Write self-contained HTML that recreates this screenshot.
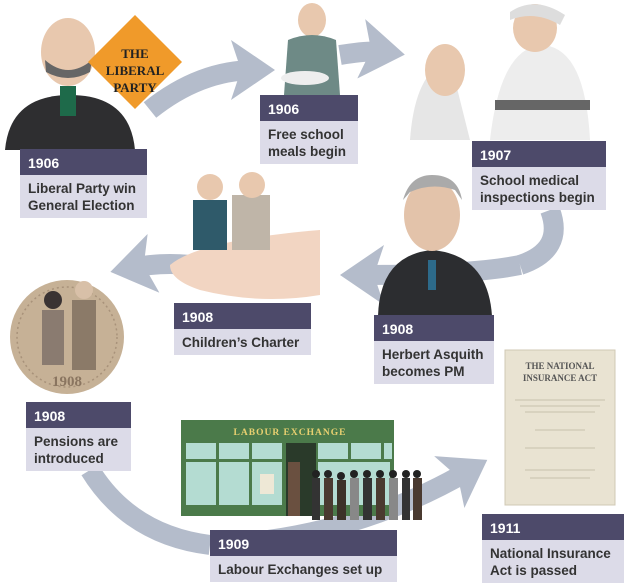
<!DOCTYPE html>
<html><head><meta charset="utf-8"><style>
body{margin:0;width:624px;height:586px;background:#fff;position:relative;overflow:hidden;font-family:"Liberation Sans",Arial,sans-serif}
.l{position:absolute;font-weight:bold}
.l .h{background:#4d4a6a;color:#fff;font-size:14px;height:26px;line-height:28px;padding-left:8px}
.l .b{background:#dcdbe8;color:#333;font-size:13.5px;line-height:17px;padding:5px 8px 4px}
svg{position:absolute;left:0;top:0}
</style></head><body>
<svg width="624" height="586" viewBox="0 0 624 586">
<defs><marker id="a" markerWidth="3" markerHeight="3" refX="1.2" refY="1.5" orient="auto"><path d="M0,0 L2.2,1.5 L0,3 L0.5,1.5Z" fill="#b4bccb"/></marker></defs>
<g fill="none" stroke="#b4bccb" stroke-width="20">
<path d="M150,110 Q200,70 255,70" marker-end="url(#a)"/>
<path d="M340,55 Q370,50 385,52" marker-end="url(#a)"/>
<path d="M550,210 Q565,250 520,265" />
<path d="M520,265 Q470,275 360,275" marker-end="url(#a)"/>
<path d="M190,265 Q160,262 130,268" marker-end="url(#a)"/>
<path d="M90,470 Q130,535 210,545"/>
<path d="M210,545 Q350,540 470,470" marker-end="url(#a)"/>
</g>
<path d="M5,150 Q10,95 70,95 Q130,95 135,150Z" fill="#2e2e30"/>
<ellipse cx="68" cy="52" rx="27" ry="34" fill="#e8c8ae"/>
<path d="M45,60 Q68,80 92,60 L90,72 Q68,84 46,72Z" fill="#666"/>
<rect x="60" y="86" width="16" height="30" fill="#1e6a4a"/>
<path d="M135,15 L182,62 L135,109 L88,62Z" fill="#f09a2a"/>
<text x="135" y="58" font-family="Liberation Serif" font-weight="bold" font-size="13" text-anchor="middle" fill="#222">THE</text>
<text x="135" y="75" font-family="Liberation Serif" font-weight="bold" font-size="13" text-anchor="middle" fill="#222">LIBERAL</text>
<text x="135" y="92" font-family="Liberation Serif" font-weight="bold" font-size="13" text-anchor="middle" fill="#222">PARTY</text>
<ellipse cx="312" cy="20" rx="14" ry="17" fill="#e8c8ae"/>
<path d="M288,40 Q312,30 336,40 L340,95 L284,95Z" fill="#6e8a86"/>
<ellipse cx="305" cy="78" rx="24" ry="7" fill="#eee"/>
<path d="M410,140 Q415,70 450,60 L470,140Z" fill="#e6e6e6"/>
<ellipse cx="445" cy="70" rx="20" ry="26" fill="#e8c8ae"/>
<path d="M490,140 Q500,50 540,45 Q585,45 590,140Z" fill="#ededed"/>
<ellipse cx="535" cy="28" rx="22" ry="24" fill="#e8c8ae"/>
<path d="M510,12 Q535,-5 565,15 L560,25 Q535,10 510,20Z" fill="#ddd"/>
<rect x="495" y="100" width="95" height="10" fill="#666"/>
<path d="M170,265 Q200,240 320,230 L320,295 Q260,305 200,290 Q170,280 170,265Z" fill="#f2d5c2"/>
<rect x="193" y="200" width="34" height="50" fill="#2f5a6a"/>
<circle cx="210" cy="187" r="13" fill="#e8c8ae"/>
<rect x="232" y="195" width="38" height="55" fill="#bfb5a8"/>
<circle cx="252" cy="185" r="13" fill="#e8c8ae"/>
<path d="M378,316 Q380,255 432,250 Q488,255 492,316Z" fill="#2c2d30"/>
<ellipse cx="432" cy="215" rx="28" ry="36" fill="#e3c3aa"/>
<path d="M403,200 Q410,175 432,175 Q458,175 462,200 L455,190 Q432,182 410,192Z" fill="#aaa"/>
<rect x="428" y="260" width="8" height="30" fill="#2d6a8a"/>
<circle cx="67" cy="337" r="57" fill="#c6b196"/>
<circle cx="67" cy="337" r="50" fill="none" stroke="#a8927a" stroke-width="1.5" stroke-dasharray="2 3"/>
<rect x="42" y="310" width="22" height="55" fill="#8a7b70"/>
<rect x="72" y="300" width="24" height="70" fill="#8b7a68"/>
<circle cx="53" cy="300" r="9" fill="#3a3333"/>
<circle cx="84" cy="290" r="9" fill="#d8c0a8"/>
<text x="67" y="386" font-family="Liberation Serif" font-weight="bold" font-size="15" text-anchor="middle" fill="#8a7560">1908</text>
<rect x="181" y="420" width="213" height="96" fill="#4b7a4a"/>
<text x="290" y="435" font-family="Liberation Serif" font-weight="bold" font-size="9.5" text-anchor="middle" fill="#e8d070" letter-spacing="1">LABOUR EXCHANGE</text>
<g fill="#b4dcd2"><rect x="186" y="443" width="30" height="16"/><rect x="219" y="443" width="30" height="16"/><rect x="252" y="443" width="30" height="16"/><rect x="186" y="462" width="30" height="43"/><rect x="219" y="462" width="30" height="43"/><rect x="252" y="462" width="30" height="43"/><rect x="318" y="443" width="30" height="16"/><rect x="351" y="443" width="30" height="16"/><rect x="384" y="443" width="8" height="16"/><rect x="318" y="462" width="72" height="43"/></g>
<rect x="260" y="474" width="14" height="20" fill="#eee8d6"/>
<rect x="286" y="443" width="30" height="73" fill="#2a3a2a"/>
<rect x="288" y="462" width="12" height="54" fill="#6a5040"/>
<g>
<rect x="312" y="478" width="8" height="42" fill="#333"/><rect x="324" y="478" width="9" height="42" fill="#4a3a30"/><rect x="337" y="480" width="9" height="40" fill="#3c3228"/><rect x="350" y="478" width="9" height="42" fill="#888"/><rect x="363" y="478" width="9" height="42" fill="#333"/><rect x="376" y="478" width="9" height="42" fill="#4a3a30"/><rect x="389" y="478" width="9" height="42" fill="#888"/><rect x="402" y="478" width="8" height="42" fill="#333"/><rect x="413" y="478" width="9" height="42" fill="#4a3a30"/>
</g>
<g fill="#222"><circle cx="316" cy="474" r="4"/><circle cx="328" cy="474" r="4"/><circle cx="341" cy="476" r="4"/><circle cx="354" cy="474" r="4"/><circle cx="367" cy="474" r="4"/><circle cx="380" cy="474" r="4"/><circle cx="393" cy="474" r="4"/><circle cx="406" cy="474" r="4"/><circle cx="417" cy="474" r="4"/></g>
<rect x="505" y="350" width="110" height="155" fill="#e9e3d2" stroke="#d0c8b4"/>
<text x="560" y="369" font-family="Liberation Serif" font-weight="bold" font-size="9" text-anchor="middle" fill="#555">THE NATIONAL</text>
<text x="560" y="381" font-family="Liberation Serif" font-weight="bold" font-size="9" text-anchor="middle" fill="#555">INSURANCE ACT</text>
<g stroke="#c8c0ac" stroke-width="1"><line x1="515" y1="400" x2="605" y2="400"/><line x1="520" y1="406" x2="600" y2="406"/><line x1="525" y1="412" x2="595" y2="412"/><line x1="535" y1="430" x2="585" y2="430"/><line x1="525" y1="448" x2="595" y2="448"/><line x1="525" y1="470" x2="595" y2="470"/><line x1="530" y1="478" x2="590" y2="478"/></g>
</svg>
<div class="l" style="left:20px;top:149px;width:127px"><div class="h">1906</div><div class="b">Liberal Party win General Election</div></div>
<div class="l" style="left:260px;top:95px;width:98px"><div class="h">1906</div><div class="b">Free school meals begin</div></div>
<div class="l" style="left:472px;top:141px;width:134px"><div class="h">1907</div><div class="b">School medical inspections begin</div></div>
<div class="l" style="left:174px;top:303px;width:137px"><div class="h">1908</div><div class="b">Children’s Charter</div></div>
<div class="l" style="left:374px;top:315px;width:120px"><div class="h">1908</div><div class="b">Herbert Asquith becomes PM</div></div>
<div class="l" style="left:26px;top:402px;width:105px"><div class="h">1908</div><div class="b">Pensions are introduced</div></div>
<div class="l" style="left:210px;top:530px;width:187px"><div class="h">1909</div><div class="b">Labour Exchanges set up</div></div>
<div class="l" style="left:482px;top:514px;width:142px"><div class="h">1911</div><div class="b">National Insurance Act is passed</div></div>
</body></html>
